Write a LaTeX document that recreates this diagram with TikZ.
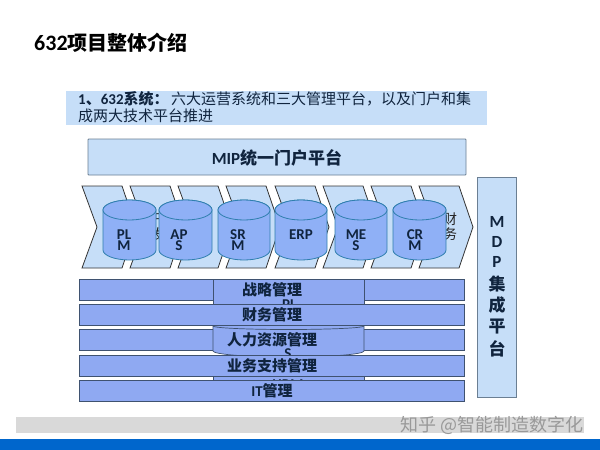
\documentclass[tikz,border=0pt]{standalone}
\usepackage{fontspec}
\setmainfont{Noto Sans CJK SC}
\newfontfamily\latf{Carlito}
\definecolor{lightb}{HTML}{C6DEF8}
\definecolor{edgeb}{HTML}{6B7F93}
\definecolor{cylf}{HTML}{8FB0F6}
\definecolor{cyle}{HTML}{2F7FAE}
\definecolor{barf}{HTML}{8FA9F2}
\definecolor{bare}{HTML}{3F5270}
\definecolor{darkt}{HTML}{10243E}
\definecolor{footb}{HTML}{0066CC}
\tikzset{
  x=1pt,y=-1pt,
  panel/.style={draw=edgeb,line width=.9pt,fill=lightb},
  barbox/.style={draw=bare,line width=.9pt,fill=barf},
  chev/.style={draw=black!80,line width=.8pt,fill=lightb},
  cyl/.style={draw=cyle,line width=.8pt,fill=cylf},
  lowcyl/.style={draw=bare,line width=.7pt,fill=barf},
  barlabel/.style={font=\bfseries\fontsize{15}{15}\selectfont,text=darkt,inner sep=0pt},
  cyllabel/.style={font=\bfseries\fontsize{15}{11}\selectfont\latf,text=darkt,inner sep=0pt,align=center},
  chevlabel/.style={font=\fontsize{14}{15}\selectfont,text=black!85,inner sep=0pt,align=center},
  mdp/.style={font=\bfseries\fontsize{17}{17}\selectfont,text=darkt,inner sep=0pt},
}
% left x, right x, top y, bottom y
\newcommand{\mycyl}[4]{%
  \path[cyl] (#1,#3+10) arc[x radius={(#2-#1)/2},y radius=10,start angle=180,end angle=360]
    -- (#2,#4-10) arc[x radius={(#2-#1)/2},y radius=10,start angle=0,end angle=180] -- cycle;
  \path[cyl] ({(#1+#2)/2},#3+10) ellipse[x radius={(#2-#1)/2},y radius=10];
}
\newcommand{\mychev}[1]{%
  \path[chev] (#1,186) -- (#1+40,186) -- (#1+54,227) -- (#1+40,268) -- (#1,268) -- (#1+15,227) -- cycle;
}
\begin{document}
\begin{tikzpicture}
\useasboundingbox (0,0) rectangle (600,450);
\fill[white] (0,0) rectangle (600,450);
\node[anchor=west,inner sep=0pt,font=\bfseries\fontsize{20}{20}\selectfont] (title) at (34,43) {{\fontsize{22}{22}\selectfont\latf 632}项目整体介绍};
\fill[lightb] (66,91) rectangle (487,125);
\node[anchor=north west,inner sep=0pt,align=left,text=darkt,font=\fontsize{15}{17}\selectfont] (intro) at (78,91)
  {\textbf{{\latf 1}、{\latf 632}系统：}\,六大运营系统和三大管理平台，以及门户和集\\成两大技术平台推进};
\path[panel,rounded corners=.8pt] (88,139) rectangle (466,175);
\node[barlabel,font=\bfseries\fontsize{17}{17}\selectfont] (mip) at (277,158) {{\latf MIP}统一门户平台};
% chevrons
\foreach \cx in {82,130,178,226,275,323,371,419} {\mychev{\cx}}
\node[chevlabel] (c2) at (158,227) {开\\发};
\node[chevlabel] (c3) at (205,227) {计\\划};
\node[chevlabel] (c8) at (450,227) {财\\务};
% upper cylinders
\mycyl{103}{156}{200}{260}
\mycyl{159}{212}{200}{260}
\mycyl{218}{270}{200}{260}
\mycyl{275}{327}{200}{260}
\mycyl{335}{387}{200}{260}
\mycyl{393}{446}{200}{260}
\node[cyllabel] (plm) at (124,240) {PL\\M};
\node[cyllabel] (aps) at (179,240) {AP\\S};
\node[cyllabel] (srm) at (238,240) {SR\\M};
\node[cyllabel] (erp) at (301,235) {ERP};
\node[cyllabel] (mes) at (356,240) {ME\\S};
\node[cyllabel] (crm) at (415,240) {CR\\M};
% lower stack
\path[barbox] (79,279) rectangle (464,300);
\path[barbox] (79,329) rectangle (464,350);
\path[lowcyl] (213,279) rectangle (364,305);
\node[cyllabel] (pi) at (288,305) {PI};
\path[lowcyl] (213,326) arc[x radius=75.5,y radius=1,start angle=180,end angle=360]
  -- (364,351) arc[x radius=75.5,y radius=6,start angle=0,end angle=180] -- cycle;
\draw[lowcyl,fill=none] (213,326) arc[x radius=75.5,y radius=3.5,start angle=180,end angle=0];
\node[cyllabel] (s) at (288,354) {S};
\path[lowcyl] (213,370) rectangle (364,381);
\node[cyllabel] (hrm) at (288,385) {HRM};
\path[barbox] (79,304) rectangle (464,325);
\path[barbox] (79,355) rectangle (464,376);
\path[barbox] (79,380) rectangle (464,401);
\node[barlabel] (b1) at (272,290) {战略管理};
\node[barlabel] (b2) at (272,315) {财务管理};
\node[barlabel] (b3) at (272,340) {人力资源管理};
\node[barlabel] (b4) at (272,366) {业务支持管理};
\node[barlabel] (b5) at (272,391) {{\latf IT}管理};
% MDP
\path[panel] (477,177) rectangle (516,397);
\node[mdp] (m) at (497,222) {\latf M};
\node[mdp] (d) at (497,242) {\latf D};
\node[mdp] (p) at (497,262) {\latf P};
\node[mdp] (j) at (497,284) {集};
\node[mdp] (cc) at (497,305) {成};
\node[mdp] (pp) at (497,327) {平};
\node[mdp] (t) at (497,349) {台};
% footer
\fill[black!15] (16,417) rectangle (584,433);
\fill[footb] (0,439) rectangle (600,450);
\node[anchor=east,inner sep=0pt,text=black!40,font=\fontsize{18}{18}\selectfont] (wm) at (584,425) {知乎 @智能制造数字化};
\end{tikzpicture}
\end{document}
